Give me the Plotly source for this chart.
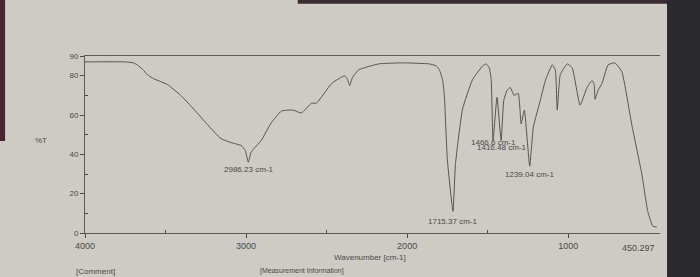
import plotly.graph_objects as go

# Spectrum (wavenumber in cm-1, %T)
wavenumber = [4000, 3750, 3700, 3675, 3640, 3613, 3575, 3530, 3488, 3406, 3325, 3238, 3156,
              3094, 3031, 3005, 2986.23, 2969, 2950, 2906, 2844, 2781, 2740, 2706, 2656,
              2594, 2563, 2469, 2388, 2370, 2356, 2340, 2300, 2175, 2031, 1863, 1820, 1800,
              1780, 1769, 1750, 1715.37, 1700, 1656, 1594, 1531, 1510, 1490, 1478, 1466.6,
              1442, 1416.48, 1400, 1380, 1360, 1335, 1310, 1292, 1272, 1239.04, 1216, 1173,
              1142, 1099, 1080, 1068, 1049, 1006, 975, 926, 883, 852, 840, 833, 815, 790, 753,
              710, 667, 605, 543, 506, 475, 450.297]
transmittance = [87, 87, 86.5, 85.5, 83, 80.5, 78.5, 77, 75.5, 70, 63, 55, 48,
                 46, 44.5, 42, 36, 41, 43, 47, 56, 62, 62.5, 62.5, 61,
                 66, 66, 76, 80, 78, 75, 79, 83, 86, 86.5, 86, 85, 83,
                 78, 70, 37, 11, 35, 63, 78, 85, 86, 84, 78, 47,
                 69, 47, 67.5, 72.5, 74, 70, 71, 55.5, 62.5, 34, 54, 67.5,
                 77.5, 85.5, 83, 62.5, 80.5, 86, 84, 65, 74, 77.5, 76, 68, 72.5, 76, 85.5,
                 86.5, 82, 55, 30, 11, 3.5, 3]

# Peak labels
peak_x = [2986.23, 1715.37, 1466.6, 1416.48, 1239.04]
peak_text = ["2986.23 cm-1", "1715.37 cm-1", "1466.6 cm-1", "1416.48 cm-1", "1239.04 cm-1"]
label_y = [32.5, 6.0, 46.0, 43.5, 30.0]

x_ticks = [4000, 3000, 2000, 1000]
y_ticks = [0, 20, 40, 60, 80, 90]

paper = "#cdcbc4"
ink = "#4a4a4a"
font = "Liberation Sans, Arial, sans-serif"

fig = go.Figure()
fig.add_trace(go.Scatter(x=wavenumber, y=transmittance, mode="lines",
                         line=dict(color="#555555", width=1, shape="spline", smoothing=0.4),
                         hoverinfo="skip"))

for px_, t, yy in zip(peak_x, peak_text, label_y):
    fig.add_annotation(x=px_, y=yy, xref="x", yref="y", text=t, showarrow=False,
                       yanchor="middle",
                       font=dict(size=8, color=ink, family=font))

extra = [
    dict(x=450.297, y=-0.085, xref="x", yref="paper", text="450.297", xanchor="right",
         font=dict(size=9, color=ink, family=font)),
    dict(x=-0.09, y=0.525, xref="paper", yref="paper", text="%T",
         font=dict(size=8, color=ink, family=font)),
    dict(x=0.496, y=-0.14, xref="paper", yref="paper", text="Wavenumber [cm-1]",
         font=dict(size=8, color=ink, family=font)),
    dict(x=-0.019, y=-0.22, xref="paper", yref="paper", text="[Comment]",
         font=dict(size=8, color=ink, family=font)),
    dict(x=0.30, y=-0.215, xref="paper", yref="paper", text="[Measurement Information]",
         xanchor="left", font=dict(size=7, color=ink, family=font)),
]
for a in extra:
    fig.add_annotation(showarrow=False, yanchor="middle", **a)

# photo surroundings (dark edges)
fig.add_shape(type="rect", xref="paper", yref="paper", x0=1.0122, x1=1.08, y0=-0.3, y1=1.35,
              fillcolor="#2b2b2d", line_width=0, layer="above")
fig.add_shape(type="rect", xref="paper", yref="paper", x0=0.37, x1=1.0122, y0=1.295, y1=1.35,
              fillcolor="#3b2c33", line_width=0, layer="above")
fig.add_shape(type="rect", xref="paper", yref="paper", x0=-0.16, x1=-0.139, y0=0.52, y1=1.35,
              fillcolor="#4a2233", line_width=0, layer="above")

fig.update_layout(
    width=700, height=277,
    margin=dict(l=85, r=40, t=56, b=44),
    paper_bgcolor=paper, plot_bgcolor=paper,
    showlegend=False,
    font=dict(family=font, size=9, color=ink),
)
fig.update_xaxes(range=[4000, 430], tickvals=x_ticks, ticks="outside", ticklen=4,
                 tickcolor=ink, showline=True, linecolor="#5a5a5a", linewidth=1,
                 mirror=True, showgrid=False, zeroline=False,
                 tickfont=dict(size=9, color=ink),
                 minor=dict(tickvals=[3500, 2500, 1500], ticks="inside", ticklen=3,
                            tickcolor=ink))
fig.update_yaxes(range=[0, 90], tickvals=y_ticks, ticks="outside", ticklen=4,
                 tickcolor=ink, showline=True, linecolor="#5a5a5a", linewidth=1,
                 showgrid=False, zeroline=False, tickfont=dict(size=8, color=ink),
                 minor=dict(tickvals=[10, 30, 50, 70], ticks="inside", ticklen=3,
                            tickcolor=ink))

fig.write_html("out.html")
